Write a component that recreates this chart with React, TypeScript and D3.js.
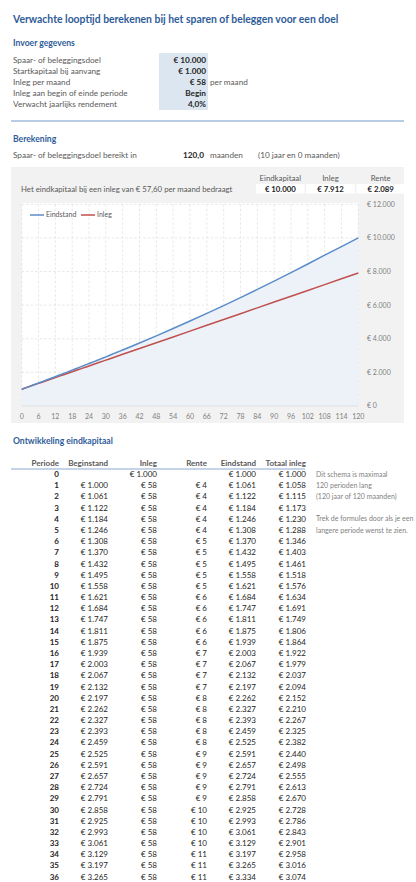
import * as d3 from 'd3';

// invoer
const inputLabels = [
  'Spaar- of beleggingsdoel',
  'Startkapitaal bij aanvang',
  'Inleg per maand',
  'Inleg aan begin of einde periode',
  'Verwacht jaarlijks rendement',
];
const inputValues = ['€ 10.000', '€ 1.000', '€ 58', 'Begin', '4,0%'];

// resultaat
const summaryHeaders = ['Eindkapitaal', 'Inleg', 'Rente'];
const summaryValues = [10000, 7912, 2089];

// schema (periode 0..36)
const eindstand = [
  1000, 1061, 1122, 1184, 1246, 1308, 1370, 1432, 1495, 1558, 1621, 1684, 1747,
  1811, 1875, 1939, 2003, 2067, 2132, 2197, 2262, 2327, 2393, 2459, 2525, 2591,
  2657, 2724, 2791, 2858, 2925, 2993, 3061, 3129, 3197, 3265, 3334,
];
const rente = [
  4, 4, 4, 4, 4, 5, 5, 5, 5, 5, 6, 6, 6, 6, 6, 7, 7, 7, 7, 8, 8, 8, 8, 8, 9, 9,
  9, 9, 9, 10, 10, 10, 10, 11, 11, 11,
];
const totaalInleg = [
  1000, 1058, 1115, 1173, 1230, 1288, 1346, 1403, 1461, 1518, 1576, 1634, 1691,
  1749, 1806, 1864, 1922, 1979, 2037, 2094, 2152, 2210, 2267, 2325, 2382, 2440,
  2498, 2555, 2613, 2670, 2728, 2786, 2843, 2901, 2958, 3016, 3074,
];
const startInleg = 1000;
const maandInleg = 58;

const laterMonths = [42, 48, 54, 60, 66, 72, 78, 84, 90, 96, 102, 108, 114, 120];
const laterEindstand = [
  3750, 4175, 4610, 5055, 5510, 5975, 6450, 6935, 7430, 7935, 8450, 8975, 9485, 10000,
];
const laterInleg = [
  3419, 3765, 4110, 4456, 4802, 5147, 5493, 5838, 6184, 6530, 6875, 7221, 7566, 7912,
];

const notes = [
  'Dit schema is maximaal',
  '120 perioden lang',
  '(120 jaar of 120 maanden)',
  '',
  'Trek de formules door als je een',
  'langere periode wenst te zien.',
];

const tableHeaders = ['Periode', 'Beginstand', 'Inleg', 'Rente', 'Eindstand', 'Totaal inleg'];

const FONT = 'Lato, "Open Sans", sans-serif';
const BLUE = '#5b8cc8';
const RED = '#c0504d';
const TITLE = '#2f5c99';
const GRAY_TXT = '#595959';
const FS = 8.2;

const nl = d3.formatLocale({
  decimal: ',',
  thousands: '.',
  grouping: [3],
  currency: ['€ ', ''],
});
const eur = (v: number) => `€ ${nl.format(',')(v)}`;

export default function App() {
  const width = 416;
  const height = 882;

  const months = d3.range(0, 37).concat(laterMonths);
  const series = months.map((m, i) => ({
    m,
    e: i < eindstand.length ? eindstand[i] : laterEindstand[i - eindstand.length],
    inl: i < totaalInleg.length ? totaalInleg[i] : laterInleg[i - totaalInleg.length],
  }));

  const x = d3.scaleLinear().domain([0, 120]).range([21.7, 358.3]);
  const y = d3.scaleLinear().domain([0, 12000]).range([406, 204.3]);
  const xTicks = d3.range(0, 121, 6);
  const yTicks = d3.range(0, 12001, 2000);

  const lineE = d3.line<(typeof series)[0]>().x((d) => x(d.m)).y((d) => y(d.e));
  const lineI = d3.line<(typeof series)[0]>().x((d) => x(d.m)).y((d) => y(d.inl));
  const areaE = d3
    .area<(typeof series)[0]>()
    .x((d) => x(d.m))
    .y0(y(0))
    .y1((d) => y(d.e));

  // tabel
  const rowY = d3.scaleLinear().domain([0, 36]).range([474.3, 876.8]);
  const colRight = [59, 108, 157, 207, 256, 306];
  const periods = d3.range(0, eindstand.length);

  const summaryX = d3.scaleBand().domain(summaryHeaders).range([256, 405]).paddingInner(0.03);

  return (
    <div style={{ position: 'absolute', left: 0, top: 0 }}>
      <svg width={width} height={height} fontFamily={FONT} style={{ display: 'block', background: '#fff' }}>
        {/* titel */}
        <text x={13} y={23} fontSize={10.4} fontWeight={700} fill={TITLE}>
          Verwachte looptijd berekenen bij het sparen of beleggen voor een doel
        </text>

        <text x={13} y={46} fontSize={8.6} fontWeight={700} fill={TITLE}>
          Invoer gegevens
        </text>
        <rect x={159} y={53} width={49} height={57} fill='#dce6f1' />
        {inputLabels.map((l, i) => (
          <g key={l}>
            <text x={13} y={63 + i * 11} fontSize={FS} fill={GRAY_TXT}>
              {l}
            </text>
            <text x={206} y={63 + i * 11} fontSize={FS} fontWeight={700} fill='#262626' textAnchor='end'>
              {inputValues[i]}
            </text>
          </g>
        ))}
        <text x={210} y={85} fontSize={FS} fill={GRAY_TXT}>
          per maand
        </text>

        <line x1={11} x2={404} y1={121} y2={121} stroke='#b8cce4' strokeWidth={2} />

        <text x={13} y={142} fontSize={8.6} fontWeight={700} fill={TITLE}>
          Berekening
        </text>
        <text x={13} y={158} fontSize={FS} fill={GRAY_TXT}>
          Spaar- of beleggingsdoel bereikt in
        </text>
        <text x={204} y={158} fontSize={FS} fontWeight={700} fill='#262626' textAnchor='end'>
          120,0
        </text>
        <text x={210} y={158} fontSize={FS} fill={GRAY_TXT}>
          maanden
        </text>
        <text x={258} y={158} fontSize={FS} fill={GRAY_TXT}>
          (10 jaar en 0 maanden)
        </text>

        {/* grijs paneel */}
        <rect x={11} y={167} width={393} height={256} fill='#f2f2f2' />
        <text x={21} y={192} fontSize={7.8} fill={GRAY_TXT}>
          Het eindkapitaal bij een inleg van € 57,60 per maand bedraagt
        </text>
        {summaryHeaders.map((h, i) => {
          const bx = summaryX(h) ?? 0;
          const bw = summaryX.bandwidth();
          return (
            <g key={h}>
              <text x={bx + bw / 2} y={180.5} fontSize={7.8} fill={GRAY_TXT} textAnchor='middle'>
                {h}
              </text>
              <rect x={bx} y={184} width={bw} height={9.5} fill='#fff' />
              <text x={bx + bw / 2} y={191.8} fontSize={7.8} fontWeight={700} fill='#222' textAnchor='middle'>
                {eur(summaryValues[i])}
              </text>
            </g>
          );
        })}

        {/* grafiek */}
        <rect x={x(0)} y={y(12000) - 1.5} width={x(120) - x(0)} height={y(0) - y(12000) + 1.5} fill='#fff' />
        {yTicks.slice(1).map((t) => (
          <line key={`h${t}`} x1={x(0)} x2={x(120)} y1={y(t)} y2={y(t)} stroke='#dedede' strokeWidth={0.7} strokeDasharray='2.5 2' />
        ))}
        {xTicks.map((t) => (
          <line key={`v${t}`} x1={x(t)} x2={x(t)} y1={y(12000)} y2={y(0)} stroke='#dedede' strokeWidth={0.7} strokeDasharray='2.5 2' />
        ))}
        <path d={areaE(series) ?? ''} fill='#edf2f9' />
        <line x1={x(0)} x2={x(120)} y1={y(0)} y2={y(0)} stroke='#d9d9d9' strokeWidth={0.8} />
        <path d={lineI(series) ?? ''} fill='none' stroke={RED} strokeWidth={1.5} />
        <path d={lineE(series) ?? ''} fill='none' stroke={BLUE} strokeWidth={1.5} />

        {yTicks.map((t) => (
          <text key={`yl${t}`} x={367} y={y(t)} dy='0.35em' fontSize={7} fill='#7f7f7f'>
            {eur(t)}
          </text>
        ))}
        {xTicks.map((t) => (
          <text key={`xl${t}`} x={x(t)} y={417} dy='0.35em' fontSize={7} fill='#7f7f7f' textAnchor='middle'>
            {t}
          </text>
        ))}

        {/* legenda */}
        <line x1={30} x2={44} y1={215} y2={215} stroke={BLUE} strokeWidth={1.5} />
        <text x={46} y={215} dy='0.35em' fontSize={7} fill='#595959'>
          Eindstand
        </text>
        <line x1={81} x2={95} y1={215} y2={215} stroke={RED} strokeWidth={1.5} />
        <text x={97} y={215} dy='0.35em' fontSize={7} fill='#595959'>
          Inleg
        </text>

        {/* schema */}
        <text x={13} y={444} fontSize={8.6} fontWeight={700} fill={TITLE}>
          Ontwikkeling eindkapitaal
        </text>
        {tableHeaders.map((h, i) => (
          <text key={h} x={colRight[i]} y={463} dy='0.35em' fontSize={8} fontWeight={700} fill={GRAY_TXT} textAnchor='end'>
            {h}
          </text>
        ))}
        <line x1={11} x2={305} y1={469} y2={469} stroke='#7f9fcf' strokeWidth={0.9} />
        {periods.map((p) => {
          const cells = [
            String(p),
            p === 0 ? '' : eur(eindstand[p - 1]),
            p === 0 ? eur(startInleg) : eur(maandInleg),
            p === 0 ? '' : `€ ${rente[p - 1]}`,
            eur(eindstand[p]),
            eur(totaalInleg[p]),
          ];
          return (
            <g key={p}>
              {cells.map((c, ci) => (
                <text
                  key={ci}
                  x={colRight[ci]}
                  y={rowY(p)}
                  dy='0.35em'
                  fontSize={8}
                  fontWeight={ci === 0 ? 700 : 400}
                  fill='#262626'
                  textAnchor='end'
                >
                  {c}
                </text>
              ))}
            </g>
          );
        })}
        {notes.map((n, i) => (
          <text key={i} x={316} y={rowY(i)} dy='0.35em' fontSize={7} fill='#7f7f7f'>
            {n}
          </text>
        ))}
      </svg>
    </div>
  );
}
